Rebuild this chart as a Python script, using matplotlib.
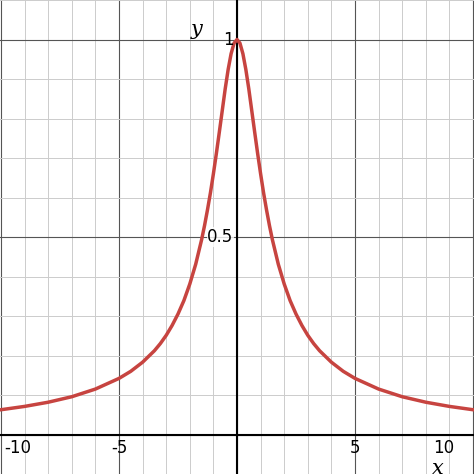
import matplotlib
matplotlib.use("Agg")
import matplotlib.pyplot as plt

xs_pos = [0, 0.125, 0.25, 0.375, 0.5, 0.625, 0.75, 0.875, 1, 1.125, 1.25, 1.375, 1.5, 1.75, 2, 2.25, 2.5,
          2.75, 3, 3.25, 3.5, 4, 4.5, 5, 6, 7, 8, 9, 10, 11]
ys_pos = [1, 0.9907, 0.964, 0.924, 0.875, 0.820, 0.765, 0.711, 0.660, 0.612, 0.569, 0.529, 0.493, 0.431,
          0.381, 0.339, 0.305, 0.276, 0.251, 0.230, 0.212, 0.183, 0.160, 0.142, 0.115, 0.0956, 0.0817,
          0.0711, 0.0627, 0.056]
xs = [-v for v in xs_pos[:0:-1]] + xs_pos
ys = ys_pos[:0:-1] + ys_pos

fig = plt.figure(figsize=(4.74, 4.74), dpi=100)
ax = fig.add_axes([0, 0, 1, 1])
ax.set_xlim(-10.04, 10.04); ax.set_ylim(-0.10, 1.10)
for v in range(-10, 11):
    ax.axvline(v, color='#555' if v % 5 == 0 else '#ccc', lw=0.8 if v % 5 == 0 else 0.7, zorder=0)
for i in range(-1, 12):
    ax.axhline(i / 10, color='#555' if i % 5 == 0 else '#ccc', lw=0.8 if i % 5 == 0 else 0.7, zorder=0)
ax.axhline(0, color='black', lw=1.5, zorder=1)
ax.axvline(0, color='black', lw=1.5, zorder=1)
ax.plot(xs, ys, color='#c74440', lw=2.5, zorder=3, solid_capstyle='round', solid_joinstyle='round')
for s in ax.spines.values():
    s.set_visible(False)
ax.set_xticks([]); ax.set_yticks([])
for v, lab in [(-10, '-10'), (-5, '-5'), (5, '5'), (10, '10')]:
    xx = {-10: -9.3, 10: 8.75}.get(v, v)
    ax.text(xx, -0.012, lab, ha='center', va='top', fontsize=12, zorder=4)
ax.text(-0.15, 0.5, '0.5', ha='right', va='center', fontsize=12, zorder=4,
        bbox=dict(facecolor='white', edgecolor='none', pad=0.5, alpha=0.8))
ax.text(-0.15, 1.0, '1', ha='right', va='center', fontsize=12, zorder=4)
ax.text(8.5, -0.085, 'x', ha='center', va='center', fontsize=15, style='italic', family='DejaVu Serif')
ax.text(-1.7, 1.025, 'y', ha='center', va='center', fontsize=15, style='italic', family='DejaVu Serif')
fig.savefig('out.png', dpi=100)
